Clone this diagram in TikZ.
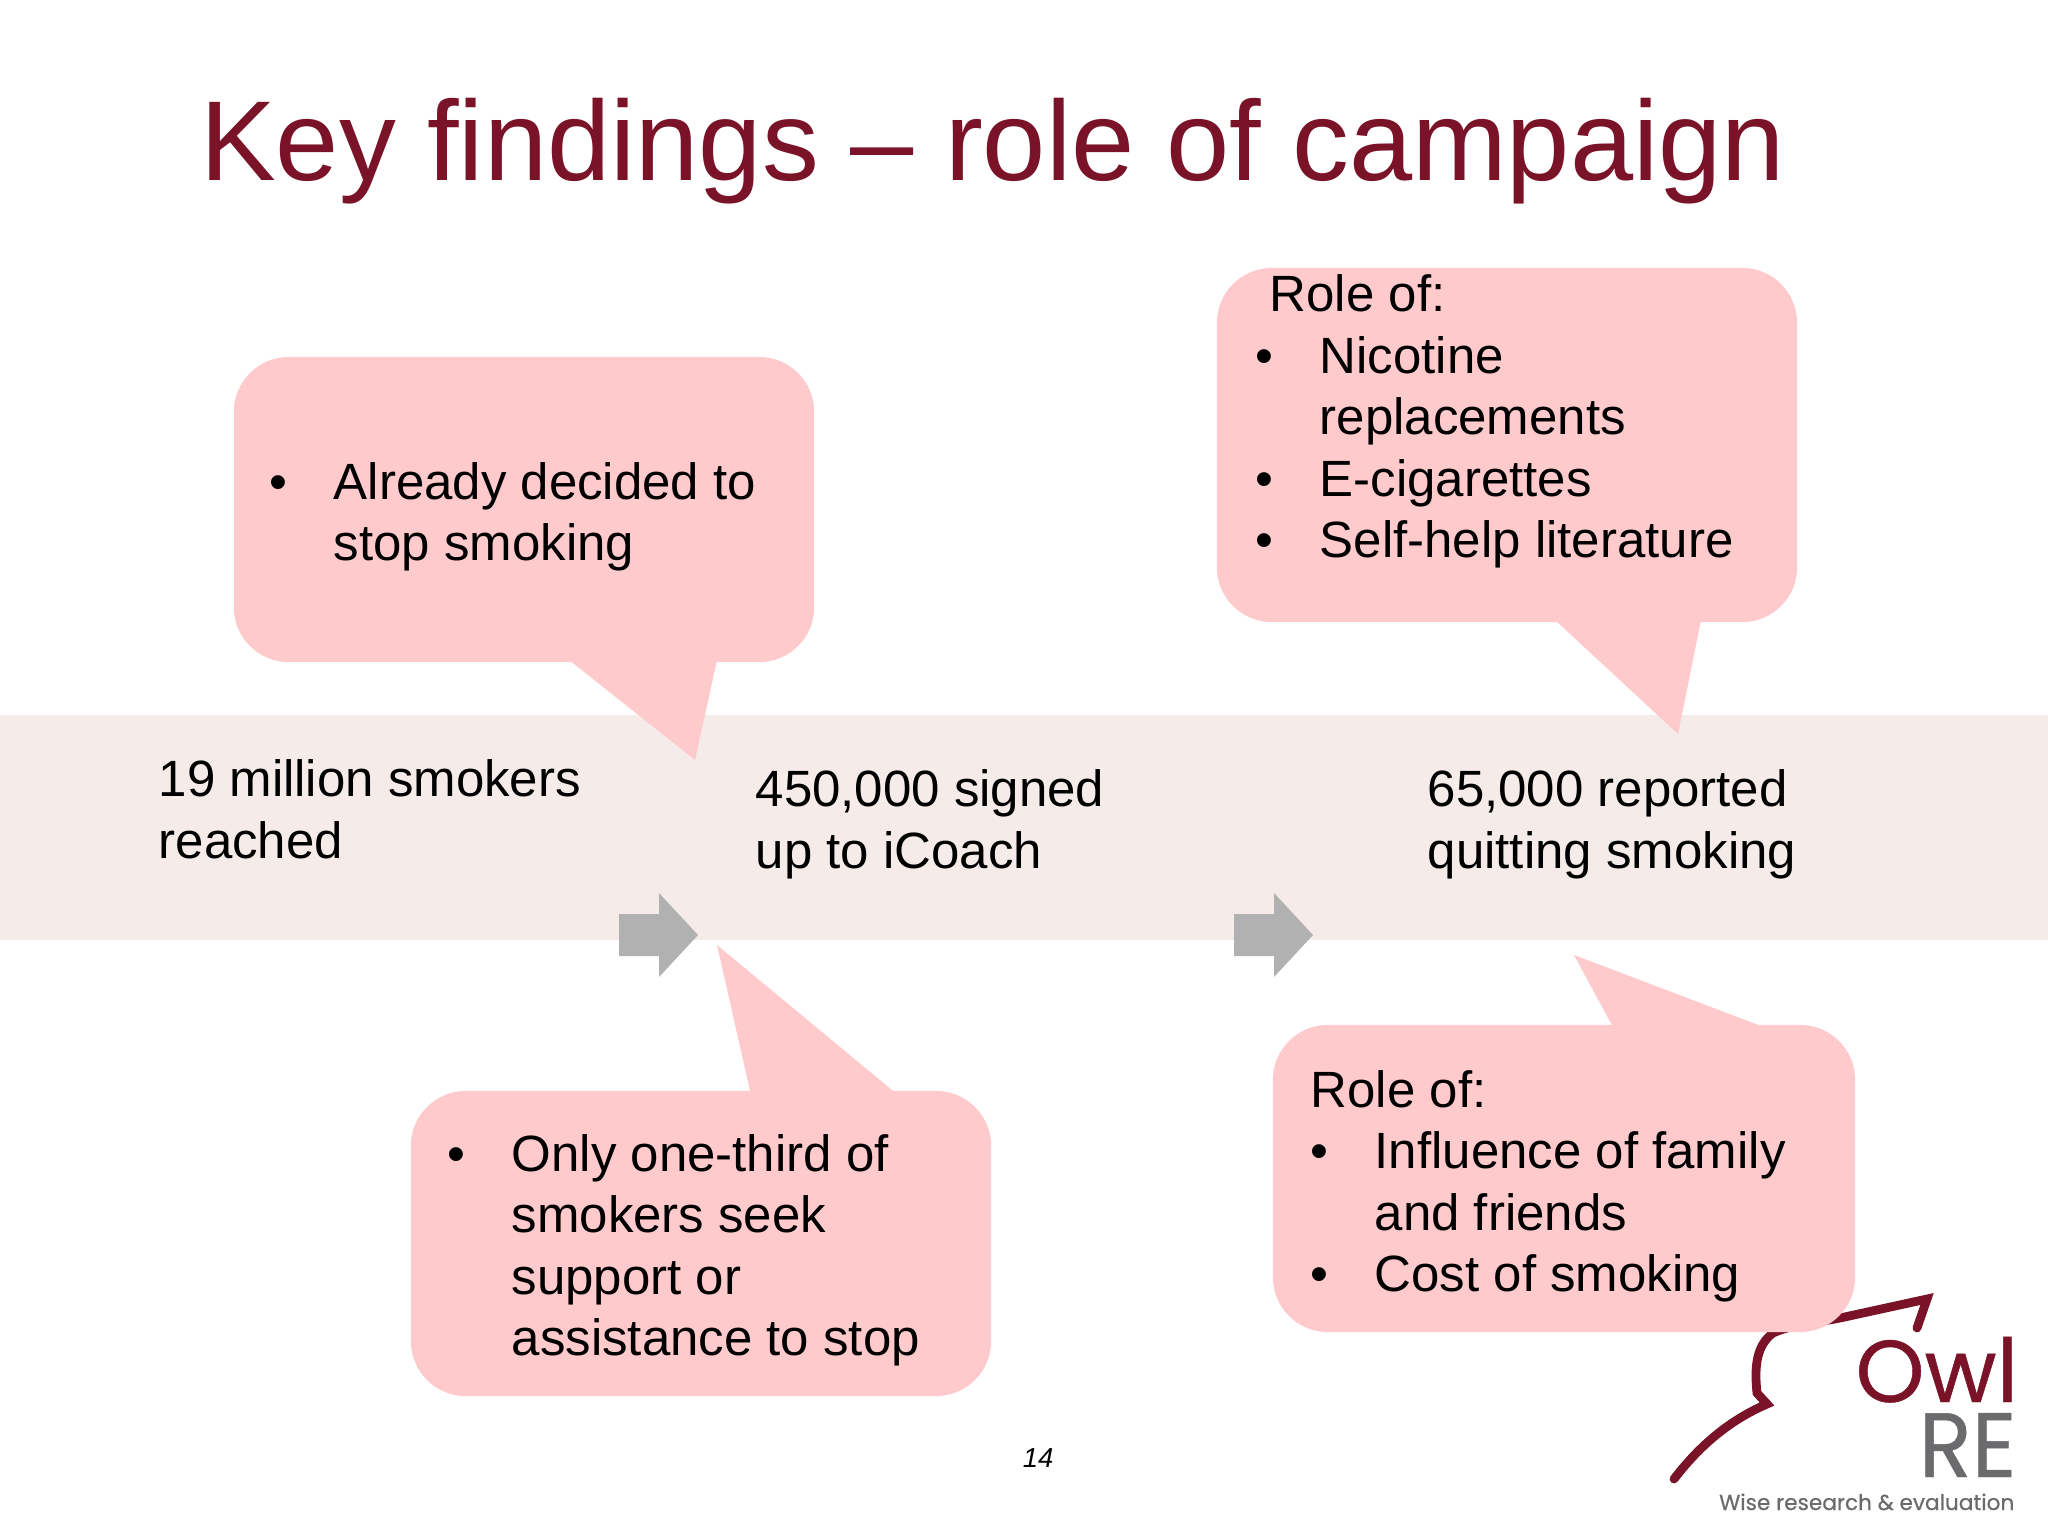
\documentclass[tikz,border=0pt]{standalone}
\usepackage{fontspec}
\setmainfont{Liberation Sans}
\newfontfamily\logofont[FakeBold=0.5]{Poppins}
\definecolor{owlred}{HTML}{7A1228}
\definecolor{owlgrey}{HTML}{6B6A6D}
\definecolor{calloutpink}{HTML}{FFCACC}
\definecolor{barbeige}{HTML}{F5ECEA}
\definecolor{arrowgrey}{HTML}{B2B1B2}
\newcommand{\bulit}{\makebox[18.2pt][l]{\textbullet}}
\newcommand{\hangit}{\hspace*{18.2pt}}
\tikzset{
  callout/.style={fill=calloutpink,rounded corners=0.55cm,inner sep=0pt},
  tail/.style={fill=calloutpink},
  bodytext/.style={anchor=base west,align=left,inner sep=0pt,font=\fontsize{14.5}{17.47}\selectfont,text=black},
  logotext/.style={anchor=base east,inner sep=0pt},
  logoline/.style={draw=owlred,line width=2.5pt,line cap=round,miter limit=10}
}
\begin{document}
\begin{tikzpicture}[x=0.01cm,y=-0.01cm]
\useasboundingbox (0,0) rectangle (2048,1536);
\fill[fill=white] (0,0) rectangle (2048,1536);
\fill[barbeige] (0,715) rectangle (2048,940);
\fill[arrowgrey] (619,914)--(659,914)--(659,893)--(698,935)--(659,977)--(659,956)--(619,956)--cycle;
\fill[arrowgrey] (1234,914)--(1274,914)--(1274,893)--(1313,935)--(1274,977)--(1274,956)--(1234,956)--cycle;
\node (title) at (199.5,180) [anchor=base west,inner sep=0pt,text=owlred,font=\fontsize{32.3}{38}\selectfont]{Key findings – role of campaign};
\node (reached) at (158,858.4) [bodytext]{19 million smokers\\reached};
\node (signed) at (755,868) [bodytext]{450,000 signed\\up to iCoach};
\node (quit) at (1427,868) [bodytext]{65,000 reported\\quitting smoking};
\draw[logoline] (1674,1479) .. controls (1700,1445) and (1730,1420) .. (1767,1404)--(1757,1393) .. controls (1754,1365) and (1757,1345) .. (1773,1333) .. controls (1790,1325) and (1820,1322) .. (1840,1318)--(1927,1299)--(1917,1328);
\node (owl) at (2019,1402) [logotext,text=owlred,font=\fontsize{25}{30}\logofont]{Owl};
\node (re) at (2017,1477) [logotext,text=owlgrey,xscale=0.95,transform shape,font=\fontsize{26}{30}\logofont]{RE};
\node (wise) at (2015,1510) [logotext,text=owlgrey,font=\fontsize{6.15}{9}\logofont]{Wise research \& evaluation};
\node (boxdecided) at (524,509.5) [callout,minimum width=5.8cm,minimum height=3.05cm]{};
\fill[tail] (569,660)--(695,760)--(717,660)--cycle;
\node (boxthird) at (701,1243.5) [callout,minimum width=5.8cm,minimum height=3.05cm]{};
\fill[tail] (717,945)--(751,1095)--(898,1095)--cycle;
\node (boxnicotine) at (1507,445) [callout,minimum width=5.8cm,minimum height=3.54cm]{};
\fill[tail] (1555,620)--(1678,734)--(1701,620)--cycle;
\node (boxfamily) at (1564,1178.5) [callout,minimum width=5.82cm,minimum height=3.07cm]{};
\fill[tail] (1574,955)--(1614,1029)--(1769,1029)--cycle;
\node (decided) at (269,560.5) [bodytext]{\bulit Already decided to\\\hangit stop smoking};
\node (third) at (447,1355.5) [bodytext]{\bulit Only one-third of\\\hangit smokers seek\\\hangit support or\\\hangit assistance to stop};
\node (nicotine) at (1255,557.6) [bodytext]{\hspace*{4pt}Role of:\\\bulit Nicotine\\\hangit replacements\\\bulit E-cigarettes\\\bulit Self-help literature};
\node (family) at (1310,1291.7) [bodytext]{Role of:\\\bulit Influence of family\\\hangit and friends\\\bulit Cost of smoking};
\node (page) at (1038,1467) [anchor=base,inner sep=0pt,font=\fontsize{7.8}{9}\selectfont\itshape]{14};
\end{tikzpicture}
\end{document}
